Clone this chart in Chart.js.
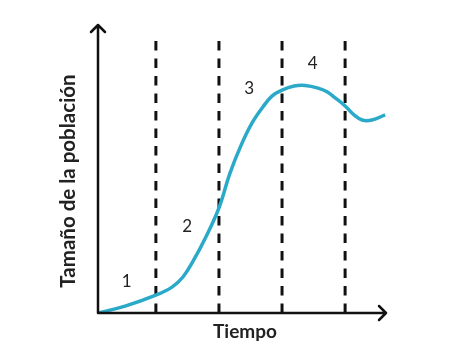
<!DOCTYPE html>
<html>
<head>
<meta charset="utf-8">
<script src="https://cdn.jsdelivr.net/npm/chart.js@4"></script>
<style>
html,body{margin:0;padding:0;background:#fff;}
#wrap{width:474px;height:356px;}
</style>
</head>
<body>
<div id="wrap"><canvas id="c" width="474" height="356"></canvas></div>
<script>
// Data (arbitrary units: time 0-100, population 0-100)
const timeValues = [0, 9.4, 20.1, 25.7, 29.5, 33, 37.5, 42, 45.8, 49.7, 53.5, 57.3, 60.4, 63.9, 68.1, 71.9, 76.4, 79.5, 82.6, 85.8, 88.9, 91.7, 95.1, 99.7];
const populationValues = [0, 2.4, 6.2, 9, 12.5, 18, 26.5, 36.5, 48.5, 58.3, 66, 71.6, 75.3, 77.4, 78.8, 79, 78.1, 76.8, 74.5, 71.9, 68.8, 67, 67, 68.8];
const phaseBoundaries = [20.1, 42, 63.9, 85.8];
const phaseLabels = ['1', '2', '3', '4'];
const phaseLabelX = [10, 31, 52.5, 74.5];
const phaseLabelY = [11, 30, 78, 86.5];
const xTitle = 'Tiempo';
const yTitle = 'Tamaño de la población';
const dashTop = 95.8;

const curve = timeValues.map((t, i) => ({x: t, y: populationValues[i]}));
const dashSets = phaseBoundaries.map(b => ({
  data: [{x: b, y: 0}, {x: b, y: dashTop}],
  borderColor: '#111',
  borderWidth: 3,
  borderDash: [9.5, 8],
  pointRadius: 0,
  tension: 0,
  order: 2
}));

const axesPlugin = {
  id: 'axesPlugin',
  afterDatasetsDraw(chart) {
    const {ctx, scales: {x, y}} = chart;
    const x0 = x.getPixelForValue(0), x1 = x.getPixelForValue(100);
    const y0 = y.getPixelForValue(0), y1 = y.getPixelForValue(100);
    ctx.save();
    ctx.strokeStyle = '#111';
    ctx.lineWidth = 2.5;
    ctx.lineCap = 'round';
    ctx.lineJoin = 'round';
    ctx.beginPath();
    ctx.moveTo(x0, y0); ctx.lineTo(x0, y1);
    ctx.moveTo(x0 - 7, y1 + 7); ctx.lineTo(x0, y1); ctx.lineTo(x0 + 7, y1 + 7);
    ctx.moveTo(x0, y0); ctx.lineTo(x1, y0);
    ctx.moveTo(x1 - 7, y0 - 7); ctx.lineTo(x1, y0); ctx.lineTo(x1 - 7, y0 + 7);
    ctx.stroke();
    // phase numbers
    ctx.fillStyle = '#222';
    ctx.font = '17px Lato, "Open Sans", sans-serif';
    ctx.textAlign = 'center';
    ctx.textBaseline = 'middle';
    phaseLabels.forEach((l, i) => {
      ctx.fillText(l, x.getPixelForValue(phaseLabelX[i]), y.getPixelForValue(phaseLabelY[i]));
    });
    // axis titles
    ctx.font = 'bold 19px Lato, "Open Sans", sans-serif';
    ctx.fillText(xTitle, (x0 + x1) / 2 + 3, y0 + 19);
    ctx.font = 'bold 20.5px Lato, "Open Sans", sans-serif';
    ctx.translate(x0 - 30, (y0 + y1) / 2 + 12);
    ctx.rotate(-Math.PI / 2);
    ctx.fillText(yTitle, 0, 0);
    ctx.restore();
  }
};

new Chart(document.getElementById('c'), {
  type: 'line',
  data: {
    datasets: [{
      data: curve,
      borderColor: '#2AA9C9',
      borderWidth: 3.5,
      pointRadius: 0,
      tension: 0.4,
      order: 1
    }, ...dashSets]
  },
  options: {
    responsive: false,
    animation: false,
    layout: {padding: {left: 98, right: 88, top: 25, bottom: 43}},
    plugins: {legend: {display: false}, tooltip: {enabled: false}},
    scales: {
      x: {type: 'linear', min: 0, max: 100, display: false},
      y: {type: 'linear', min: 0, max: 100, display: false}
    }
  },
  plugins: [axesPlugin]
});
</script>
</body>
</html>
